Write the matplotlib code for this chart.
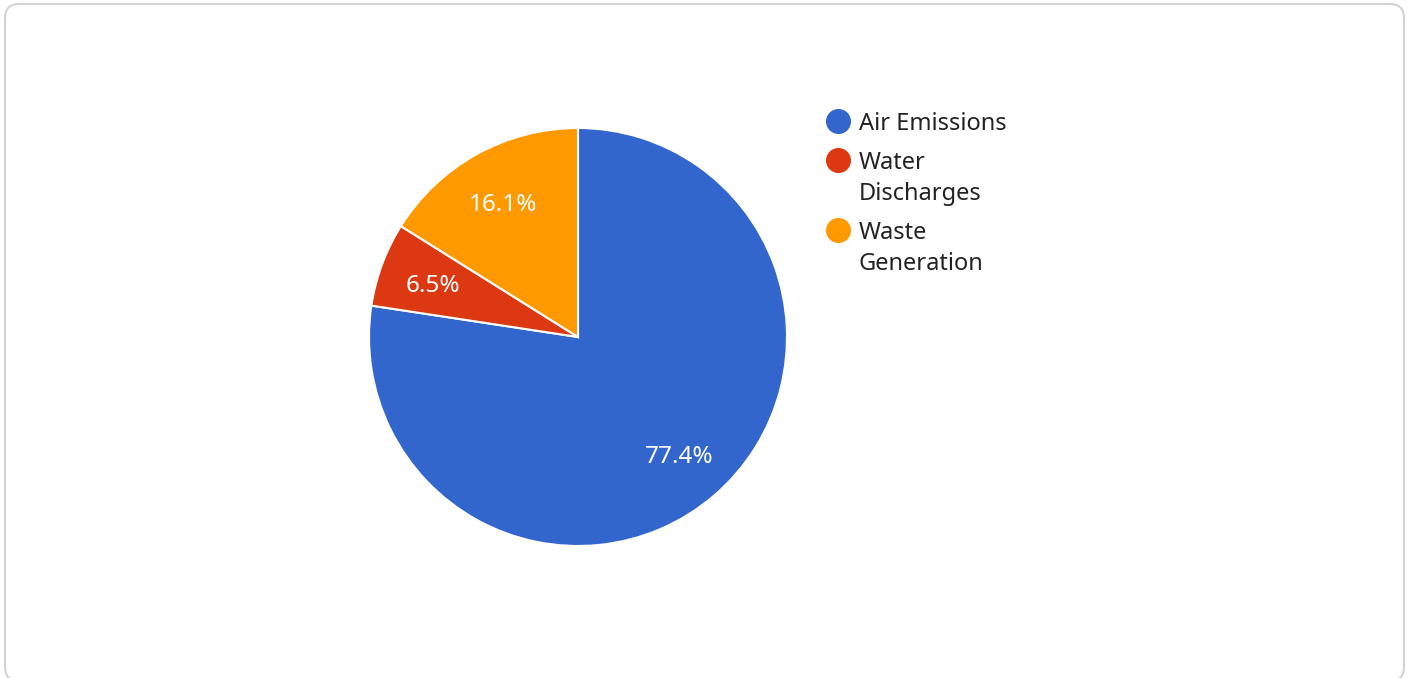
import matplotlib
matplotlib.use("Agg")
import matplotlib.pyplot as plt
from matplotlib.patches import FancyBboxPatch
from matplotlib.lines import Line2D
from matplotlib.transforms import IdentityTransform

categories = ["Air Emissions", "Water Discharges", "Waste Generation"]
legend_lines = [["Air Emissions"], ["Water", "Discharges"], ["Waste", "Generation"]]
values = [77.4, 6.5, 16.1]
colors = ["#3366cc", "#dc3912", "#ff9900"]

plt.rcParams['font.family'] = ['Noto Sans', 'DejaVu Sans']

W, H = 1409, 678
fig = plt.figure(figsize=(W / 100, H / 100), dpi=100)

# card border (pixel coords)
card = FancyBboxPatch((5, -3), 1399, 674 + 3, boxstyle="round,pad=0,rounding_size=14",
                      transform=IdentityTransform(), facecolor="white",
                      edgecolor="#d3d3d3", linewidth=1.5, zorder=0)
fig.add_artist(card)

cx, cy, r = 578, H - 337, 209
ax = fig.add_axes([(cx - r) / W, (cy - r) / H, 2 * r / W, 2 * r / H])
wedges, texts, autotexts = ax.pie(values, colors=colors, startangle=90, counterclock=False,
                                  radius=1, autopct="%.1f%%", pctdistance=0.74,
                                  wedgeprops=dict(edgecolor="white", linewidth=1.5),
                                  textprops=dict(color="white", fontsize=17.5))
for t in autotexts:
    t.set_va("center_baseline")
ax.set_xlim(-1, 1)
ax.set_ylim(-1, 1)
ax.set_aspect("equal")
ax.axis("off")

# legend drawn by hand
mx, tx = 838, 859
y = 121
for lines, col in zip(legend_lines, colors):
    fig.add_artist(Line2D([mx / W], [(H - y) / H], marker="o", markersize=17,
                          color=col, linestyle="none", transform=fig.transFigure))
    for i, line in enumerate(lines):
        fig.text(tx / W, (H - y - 31 * i) / H, line, fontsize=17, color="#222222",
                 va="center_baseline", ha="left")
    y += 31 * len(lines) + 8

fig.savefig("out.png", dpi=100)
